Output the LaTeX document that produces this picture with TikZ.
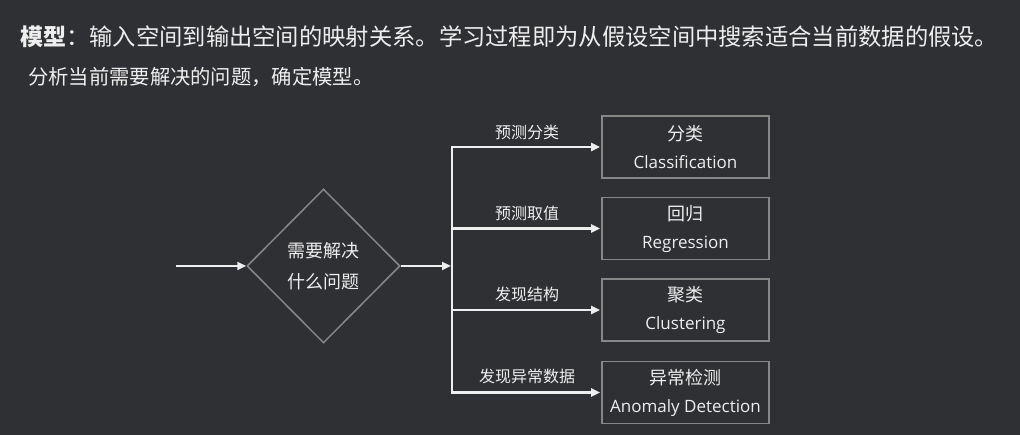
\documentclass[tikz,border=0pt]{standalone}
\usepackage{fontspec}
\setmainfont{Noto Sans CJK SC}
\newfontfamily\latinfont{Open Sans}
\usetikzlibrary{shapes.geometric,arrows.meta}
\definecolor{bg}{RGB}{47,48,52}
\definecolor{fg}{RGB}{238,238,238}
\definecolor{edgegray}{RGB}{135,135,135}
\begin{document}
\begin{tikzpicture}[x=1pt,y=-1pt,
  wire/.style={draw=fg,line width=2.5pt},
  arr/.style={wire,-{Triangle[length=9pt,width=8pt]}},
  box/.style={draw=edgegray,line width=1.8pt,minimum width=167pt,minimum height=62pt,inner sep=0pt,align=center,text=fg,font=\fontsize{18}{28}\selectfont},
  lat/.style={},
  lbl/.style={text=fg,font=\fontsize{16}{18}\selectfont,inner sep=0pt},
  ]
\fill[bg] (0,0) rectangle (1020,435);
\useasboundingbox (0,0) rectangle (1020,435);
% header
\node[anchor=west,inner sep=0pt,text=fg,font=\fontsize{23}{26}\selectfont\bfseries] (t1) at (20,37) {模型};
\node[anchor=west,inner sep=0pt,text=fg,font=\fontsize{23.3}{26}\selectfont] (t2) at (66,37) {：输入空间到输出空间的映射关系。学习过程即为从假设空间中搜索适合当前数据的假设。};
\node[anchor=west,inner sep=0pt,text=fg,font=\fontsize{20.3}{24}\selectfont] (t3) at (28,77) {分析当前需要解决的问题，确定模型。};
% diamond
\node[diamond,draw=edgegray,line width=1.5pt,minimum width=153pt,minimum height=154pt,inner sep=0pt,align=center,text=fg,font=\fontsize{18}{31}\selectfont] (d) at (323.5,266) {需要解决\\什么问题};
\coordinate (in) at (176,266);
\coordinate (j) at (451,266);
\draw[arr] (in) -- (d.west);
\draw[arr] (d.east) -- (j);
% boxes
\node[box] (c1) at (685.5,147) {分类\\{\latinfont\fontsize{17}{28}\selectfont Classification}};
\node[box] (c2) at (685.5,228.5) {回归\\{\latinfont\fontsize{17}{28}\selectfont Regression}};
\node[box] (c3) at (685.5,310) {聚类\\{\latinfont\fontsize{17}{28}\selectfont Clustering}};
\node[box] (c4) at (685.5,392.5) {异常检测\\{\latinfont\fontsize{17}{28}\selectfont Anomaly Detection}};
% branch points
\coordinate (b1) at (452,147);
\coordinate (b2) at (452,228.5);
\coordinate (b3) at (452,310);
\coordinate (b4) at (452,392.5);
\draw[arr,shorten >=1pt] (b2) -- (b1) -- (c1.west);
\draw[arr,shorten >=1pt] (b3) -- (b4) -- (c4.west);
\draw[arr,shorten >=1pt] (b2) -- (c2.west);
\draw[arr,shorten >=1pt] (b3) -- (c3.west);
\draw[wire] (b2) -- (b3);
% labels
\node[lbl] (l1) at (527,132) {预测分类};
\node[lbl] (l2) at (527,213) {预测取值};
\node[lbl] (l3) at (527,294) {发现结构};
\node[lbl] (l4) at (527,376) {发现异常数据};
\end{tikzpicture}
\end{document}
